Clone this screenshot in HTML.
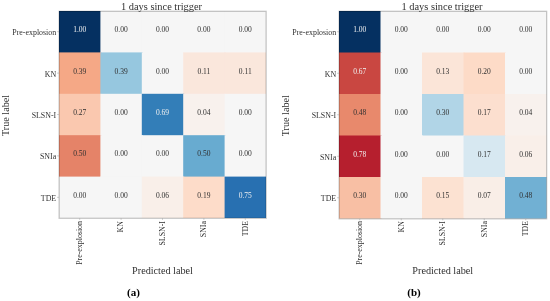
<!DOCTYPE html>
<html><head><meta charset="utf-8"><style>
html,body{margin:0;padding:0;background:#fff;}
body{width:550px;height:301px;overflow:hidden;}
svg{display:block;will-change:transform;font-family:"Liberation Serif",serif;}
</style></head><body>
<svg width="550" height="301" viewBox="0 0 550 301">
<rect width="550" height="301" fill="#fff"/>
<rect x="59.00" y="11.00" width="42.40" height="42.40" fill="#053061"/>
<rect x="100.40" y="11.00" width="42.40" height="42.40" fill="#f6f6f6"/>
<rect x="141.80" y="11.00" width="42.40" height="42.40" fill="#f6f6f6"/>
<rect x="183.20" y="11.00" width="42.40" height="42.40" fill="#f6f6f6"/>
<rect x="224.60" y="11.00" width="41.40" height="42.40" fill="#f6f6f6"/>
<rect x="59.00" y="52.40" width="42.40" height="42.40" fill="#f5a886"/>
<rect x="100.40" y="52.40" width="42.40" height="42.40" fill="#96c7df"/>
<rect x="141.80" y="52.40" width="42.40" height="42.40" fill="#f6f6f6"/>
<rect x="183.20" y="52.40" width="42.40" height="42.40" fill="#fae7dc"/>
<rect x="224.60" y="52.40" width="41.40" height="42.40" fill="#fae7dc"/>
<rect x="59.00" y="93.80" width="42.40" height="42.40" fill="#fac8af"/>
<rect x="100.40" y="93.80" width="42.40" height="42.40" fill="#f6f6f6"/>
<rect x="141.80" y="93.80" width="42.40" height="42.40" fill="#337eb8"/>
<rect x="183.20" y="93.80" width="42.40" height="42.40" fill="#f8f1ed"/>
<rect x="224.60" y="93.80" width="41.40" height="42.40" fill="#f6f6f6"/>
<rect x="59.00" y="135.20" width="42.40" height="42.40" fill="#e58368"/>
<rect x="100.40" y="135.20" width="42.40" height="42.40" fill="#f6f6f6"/>
<rect x="141.80" y="135.20" width="42.40" height="42.40" fill="#f6f6f6"/>
<rect x="183.20" y="135.20" width="42.40" height="42.40" fill="#68abd0"/>
<rect x="224.60" y="135.20" width="41.40" height="42.40" fill="#f6f6f6"/>
<rect x="59.00" y="176.60" width="42.40" height="41.40" fill="#f6f6f6"/>
<rect x="100.40" y="176.60" width="42.40" height="41.40" fill="#f6f6f6"/>
<rect x="141.80" y="176.60" width="42.40" height="41.40" fill="#f9efe9"/>
<rect x="183.20" y="176.60" width="42.40" height="41.40" fill="#fddcc9"/>
<rect x="224.60" y="176.60" width="41.40" height="41.40" fill="#2870b1"/>
<rect x="59.15" y="11.30" width="207.00" height="207.00" fill="none" stroke="#000" stroke-opacity="0.22" stroke-width="1.3"/>
<text x="79.70" y="32.20" font-size="7.5" text-anchor="middle" fill="#f0f0f0">1.00</text>
<text x="121.10" y="32.20" font-size="7.5" text-anchor="middle" fill="#303030">0.00</text>
<text x="162.50" y="32.20" font-size="7.5" text-anchor="middle" fill="#303030">0.00</text>
<text x="203.90" y="32.20" font-size="7.5" text-anchor="middle" fill="#303030">0.00</text>
<text x="245.30" y="32.20" font-size="7.5" text-anchor="middle" fill="#303030">0.00</text>
<text x="79.70" y="73.60" font-size="7.5" text-anchor="middle" fill="#303030">0.39</text>
<text x="121.10" y="73.60" font-size="7.5" text-anchor="middle" fill="#303030">0.39</text>
<text x="162.50" y="73.60" font-size="7.5" text-anchor="middle" fill="#303030">0.00</text>
<text x="203.90" y="73.60" font-size="7.5" text-anchor="middle" fill="#303030">0.11</text>
<text x="245.30" y="73.60" font-size="7.5" text-anchor="middle" fill="#303030">0.11</text>
<text x="79.70" y="115.00" font-size="7.5" text-anchor="middle" fill="#303030">0.27</text>
<text x="121.10" y="115.00" font-size="7.5" text-anchor="middle" fill="#303030">0.00</text>
<text x="162.50" y="115.00" font-size="7.5" text-anchor="middle" fill="#f0f0f0">0.69</text>
<text x="203.90" y="115.00" font-size="7.5" text-anchor="middle" fill="#303030">0.04</text>
<text x="245.30" y="115.00" font-size="7.5" text-anchor="middle" fill="#303030">0.00</text>
<text x="79.70" y="156.40" font-size="7.5" text-anchor="middle" fill="#303030">0.50</text>
<text x="121.10" y="156.40" font-size="7.5" text-anchor="middle" fill="#303030">0.00</text>
<text x="162.50" y="156.40" font-size="7.5" text-anchor="middle" fill="#303030">0.00</text>
<text x="203.90" y="156.40" font-size="7.5" text-anchor="middle" fill="#303030">0.50</text>
<text x="245.30" y="156.40" font-size="7.5" text-anchor="middle" fill="#303030">0.00</text>
<text x="79.70" y="197.80" font-size="7.5" text-anchor="middle" fill="#303030">0.00</text>
<text x="121.10" y="197.80" font-size="7.5" text-anchor="middle" fill="#303030">0.00</text>
<text x="162.50" y="197.80" font-size="7.5" text-anchor="middle" fill="#303030">0.06</text>
<text x="203.90" y="197.80" font-size="7.5" text-anchor="middle" fill="#303030">0.19</text>
<text x="245.30" y="197.80" font-size="7.5" text-anchor="middle" fill="#f0f0f0">0.75</text>
<line x1="57.20" y1="31.70" x2="59.00" y2="31.70" stroke="#b0b0b0" stroke-width="0.7"/>
<text x="56.20" y="35.20" font-size="7.9" text-anchor="end" fill="#303030">Pre-explosion</text>
<line x1="57.20" y1="73.10" x2="59.00" y2="73.10" stroke="#b0b0b0" stroke-width="0.7"/>
<text x="56.20" y="76.60" font-size="7.9" text-anchor="end" fill="#303030">KN</text>
<line x1="57.20" y1="114.50" x2="59.00" y2="114.50" stroke="#b0b0b0" stroke-width="0.7"/>
<text x="56.20" y="118.00" font-size="7.9" text-anchor="end" fill="#303030">SLSN-I</text>
<line x1="57.20" y1="155.90" x2="59.00" y2="155.90" stroke="#b0b0b0" stroke-width="0.7"/>
<text x="56.20" y="159.40" font-size="7.9" text-anchor="end" fill="#303030">SNIa</text>
<line x1="57.20" y1="197.30" x2="59.00" y2="197.30" stroke="#b0b0b0" stroke-width="0.7"/>
<text x="56.20" y="200.80" font-size="7.9" text-anchor="end" fill="#303030">TDE</text>
<line x1="79.70" y1="218.00" x2="79.70" y2="219.80" stroke="#b0b0b0" stroke-width="0.7"/>
<text transform="translate(82.00,221.00) rotate(-90)" font-size="7.9" text-anchor="end" fill="#303030">Pre-explosion</text>
<line x1="121.10" y1="218.00" x2="121.10" y2="219.80" stroke="#b0b0b0" stroke-width="0.7"/>
<text transform="translate(123.40,221.00) rotate(-90)" font-size="7.9" text-anchor="end" fill="#303030">KN</text>
<line x1="162.50" y1="218.00" x2="162.50" y2="219.80" stroke="#b0b0b0" stroke-width="0.7"/>
<text transform="translate(164.80,221.00) rotate(-90)" font-size="7.9" text-anchor="end" fill="#303030">SLSN-I</text>
<line x1="203.90" y1="218.00" x2="203.90" y2="219.80" stroke="#b0b0b0" stroke-width="0.7"/>
<text transform="translate(206.20,221.00) rotate(-90)" font-size="7.9" text-anchor="end" fill="#303030">SNIa</text>
<line x1="245.30" y1="218.00" x2="245.30" y2="219.80" stroke="#b0b0b0" stroke-width="0.7"/>
<text transform="translate(247.60,221.00) rotate(-90)" font-size="7.9" text-anchor="end" fill="#303030">TDE</text>
<text x="161.50" y="9.6" font-size="10.4" text-anchor="middle" fill="#303030">1 days since trigger</text>
<text x="162.50" y="274.0" font-size="10.2" text-anchor="middle" fill="#303030">Predicted label</text>
<text transform="translate(9.00,115.50) rotate(-90)" font-size="10.2" text-anchor="middle" fill="#303030">True label</text>
<text x="133.40" y="296" font-size="11" font-weight="bold" font-family="Liberation Serif" text-anchor="middle" fill="#000">(a)</text>
<rect x="339.00" y="11.00" width="42.50" height="42.50" fill="#053061"/>
<rect x="380.50" y="11.00" width="42.50" height="42.50" fill="#f6f6f6"/>
<rect x="422.00" y="11.00" width="42.50" height="42.50" fill="#f6f6f6"/>
<rect x="463.50" y="11.00" width="42.50" height="42.50" fill="#f6f6f6"/>
<rect x="505.00" y="11.00" width="41.50" height="42.50" fill="#f6f6f6"/>
<rect x="339.00" y="52.50" width="42.50" height="42.50" fill="#c94741"/>
<rect x="380.50" y="52.50" width="42.50" height="42.50" fill="#f6f6f6"/>
<rect x="422.00" y="52.50" width="42.50" height="42.50" fill="#fbe5d8"/>
<rect x="463.50" y="52.50" width="42.50" height="42.50" fill="#fddbc7"/>
<rect x="505.00" y="52.50" width="41.50" height="42.50" fill="#f6f6f6"/>
<rect x="339.00" y="94.00" width="42.50" height="42.50" fill="#e8896c"/>
<rect x="380.50" y="94.00" width="42.50" height="42.50" fill="#f6f6f6"/>
<rect x="422.00" y="94.00" width="42.50" height="42.50" fill="#b1d5e7"/>
<rect x="463.50" y="94.00" width="42.50" height="42.50" fill="#fcdfcf"/>
<rect x="505.00" y="94.00" width="41.50" height="42.50" fill="#f8f1ed"/>
<rect x="339.00" y="135.50" width="42.50" height="42.50" fill="#b61f2e"/>
<rect x="380.50" y="135.50" width="42.50" height="42.50" fill="#f6f6f6"/>
<rect x="422.00" y="135.50" width="42.50" height="42.50" fill="#f6f6f6"/>
<rect x="463.50" y="135.50" width="42.50" height="42.50" fill="#d7e8f1"/>
<rect x="505.00" y="135.50" width="41.50" height="42.50" fill="#f9efe9"/>
<rect x="339.00" y="177.00" width="42.50" height="41.50" fill="#f8bfa4"/>
<rect x="380.50" y="177.00" width="42.50" height="41.50" fill="#f6f6f6"/>
<rect x="422.00" y="177.00" width="42.50" height="41.50" fill="#fce2d2"/>
<rect x="463.50" y="177.00" width="42.50" height="41.50" fill="#f9eee7"/>
<rect x="505.00" y="177.00" width="41.50" height="41.50" fill="#71b0d3"/>
<rect x="339.15" y="11.30" width="207.50" height="207.50" fill="none" stroke="#000" stroke-opacity="0.22" stroke-width="1.3"/>
<text x="359.75" y="32.25" font-size="7.5" text-anchor="middle" fill="#f0f0f0">1.00</text>
<text x="401.25" y="32.25" font-size="7.5" text-anchor="middle" fill="#303030">0.00</text>
<text x="442.75" y="32.25" font-size="7.5" text-anchor="middle" fill="#303030">0.00</text>
<text x="484.25" y="32.25" font-size="7.5" text-anchor="middle" fill="#303030">0.00</text>
<text x="525.75" y="32.25" font-size="7.5" text-anchor="middle" fill="#303030">0.00</text>
<text x="359.75" y="73.75" font-size="7.5" text-anchor="middle" fill="#f0f0f0">0.67</text>
<text x="401.25" y="73.75" font-size="7.5" text-anchor="middle" fill="#303030">0.00</text>
<text x="442.75" y="73.75" font-size="7.5" text-anchor="middle" fill="#303030">0.13</text>
<text x="484.25" y="73.75" font-size="7.5" text-anchor="middle" fill="#303030">0.20</text>
<text x="525.75" y="73.75" font-size="7.5" text-anchor="middle" fill="#303030">0.00</text>
<text x="359.75" y="115.25" font-size="7.5" text-anchor="middle" fill="#303030">0.48</text>
<text x="401.25" y="115.25" font-size="7.5" text-anchor="middle" fill="#303030">0.00</text>
<text x="442.75" y="115.25" font-size="7.5" text-anchor="middle" fill="#303030">0.30</text>
<text x="484.25" y="115.25" font-size="7.5" text-anchor="middle" fill="#303030">0.17</text>
<text x="525.75" y="115.25" font-size="7.5" text-anchor="middle" fill="#303030">0.04</text>
<text x="359.75" y="156.75" font-size="7.5" text-anchor="middle" fill="#f0f0f0">0.78</text>
<text x="401.25" y="156.75" font-size="7.5" text-anchor="middle" fill="#303030">0.00</text>
<text x="442.75" y="156.75" font-size="7.5" text-anchor="middle" fill="#303030">0.00</text>
<text x="484.25" y="156.75" font-size="7.5" text-anchor="middle" fill="#303030">0.17</text>
<text x="525.75" y="156.75" font-size="7.5" text-anchor="middle" fill="#303030">0.06</text>
<text x="359.75" y="198.25" font-size="7.5" text-anchor="middle" fill="#303030">0.30</text>
<text x="401.25" y="198.25" font-size="7.5" text-anchor="middle" fill="#303030">0.00</text>
<text x="442.75" y="198.25" font-size="7.5" text-anchor="middle" fill="#303030">0.15</text>
<text x="484.25" y="198.25" font-size="7.5" text-anchor="middle" fill="#303030">0.07</text>
<text x="525.75" y="198.25" font-size="7.5" text-anchor="middle" fill="#303030">0.48</text>
<line x1="337.20" y1="31.75" x2="339.00" y2="31.75" stroke="#b0b0b0" stroke-width="0.7"/>
<text x="336.20" y="35.25" font-size="7.9" text-anchor="end" fill="#303030">Pre-explosion</text>
<line x1="337.20" y1="73.25" x2="339.00" y2="73.25" stroke="#b0b0b0" stroke-width="0.7"/>
<text x="336.20" y="76.75" font-size="7.9" text-anchor="end" fill="#303030">KN</text>
<line x1="337.20" y1="114.75" x2="339.00" y2="114.75" stroke="#b0b0b0" stroke-width="0.7"/>
<text x="336.20" y="118.25" font-size="7.9" text-anchor="end" fill="#303030">SLSN-I</text>
<line x1="337.20" y1="156.25" x2="339.00" y2="156.25" stroke="#b0b0b0" stroke-width="0.7"/>
<text x="336.20" y="159.75" font-size="7.9" text-anchor="end" fill="#303030">SNIa</text>
<line x1="337.20" y1="197.75" x2="339.00" y2="197.75" stroke="#b0b0b0" stroke-width="0.7"/>
<text x="336.20" y="201.25" font-size="7.9" text-anchor="end" fill="#303030">TDE</text>
<line x1="359.75" y1="218.50" x2="359.75" y2="220.30" stroke="#b0b0b0" stroke-width="0.7"/>
<text transform="translate(362.05,221.00) rotate(-90)" font-size="7.9" text-anchor="end" fill="#303030">Pre-explosion</text>
<line x1="401.25" y1="218.50" x2="401.25" y2="220.30" stroke="#b0b0b0" stroke-width="0.7"/>
<text transform="translate(403.55,221.00) rotate(-90)" font-size="7.9" text-anchor="end" fill="#303030">KN</text>
<line x1="442.75" y1="218.50" x2="442.75" y2="220.30" stroke="#b0b0b0" stroke-width="0.7"/>
<text transform="translate(445.05,221.00) rotate(-90)" font-size="7.9" text-anchor="end" fill="#303030">SLSN-I</text>
<line x1="484.25" y1="218.50" x2="484.25" y2="220.30" stroke="#b0b0b0" stroke-width="0.7"/>
<text transform="translate(486.55,221.00) rotate(-90)" font-size="7.9" text-anchor="end" fill="#303030">SNIa</text>
<line x1="525.75" y1="218.50" x2="525.75" y2="220.30" stroke="#b0b0b0" stroke-width="0.7"/>
<text transform="translate(528.05,221.00) rotate(-90)" font-size="7.9" text-anchor="end" fill="#303030">TDE</text>
<text x="442.00" y="9.6" font-size="10.4" text-anchor="middle" fill="#303030">1 days since trigger</text>
<text x="442.75" y="274.0" font-size="10.2" text-anchor="middle" fill="#303030">Predicted label</text>
<text transform="translate(289.00,115.75) rotate(-90)" font-size="10.2" text-anchor="middle" fill="#303030">True label</text>
<text x="414.00" y="296" font-size="11" font-weight="bold" font-family="Liberation Serif" text-anchor="middle" fill="#000">(b)</text>
</svg>
</body></html>
